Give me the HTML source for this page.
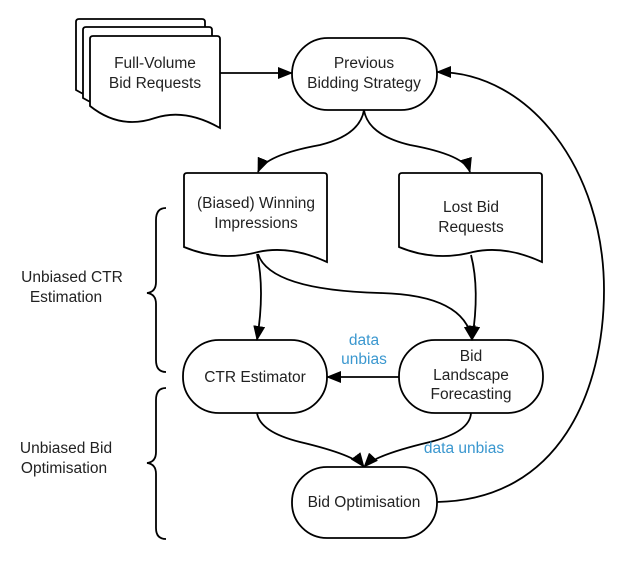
<!DOCTYPE html>
<html><head><style>
html,body{margin:0;padding:0;background:#fff;}
svg text{font-family:"Liberation Sans",sans-serif;font-size:15.5px;fill:#222;}
</style></head><body>
<svg width="619" height="558" viewBox="0 0 619 558" xmlns="http://www.w3.org/2000/svg">
<defs>
<marker id="a" markerWidth="15" markerHeight="12" refX="14" refY="6" orient="auto" markerUnits="userSpaceOnUse">
<path d="M0,0 L15,6 L0,12 z" fill="#000"/></marker>
</defs>
<g fill="#fff" stroke="#000" stroke-width="1.8">
<path d="M76,22 Q76,19 79,19 L202,19 Q205,19 205,22 L205,96 Q170,80 140,95 Q110,110 76,90 Z"/>
<path d="M83,30 Q83,27 86,27 L209,27 Q212,27 212,30 L212,104 Q177,88 147,103 Q117,118 83,98 Z"/>
<path d="M90,39 Q90,36 93,36 L217,36 Q220,36 220,39 L220,128 Q185,108 155,118 Q120,130 90,106 Z"/>
<rect x="292" y="38" width="145" height="72" rx="36"/>
<path d="M184,176 Q184,173 187,173 L324,173 Q327,173 327,176 L327,262 Q290,245 258,252 Q220,262 184,247 Z"/>
<path d="M399,176 Q399,173 402,173 L539,173 Q542,173 542,176 L542,262 Q505,245 473,252 Q435,262 399,247 Z"/>
<rect x="183" y="340" width="144" height="73" rx="36"/>
<rect x="399" y="340" width="144" height="73" rx="36"/>
<rect x="292" y="467" width="145" height="71" rx="35"/>
</g>
<g fill="none" stroke="#000" stroke-width="1.8">
<path d="M220,73 L292,73" marker-end="url(#a)"/>
<path d="M364,110 Q360,135 320,145 Q265,155 258,172" marker-end="url(#a)"/>
<path d="M364,110 Q368,135 410,145 Q465,155 470,172" marker-end="url(#a)"/>
<path d="M257,254 Q265,290 257,340" marker-end="url(#a)"/>
<path d="M258,254 Q270,290 380,293 Q465,295 472,340" marker-end="url(#a)"/>
<path d="M471,255 Q480,290 472,340" marker-end="url(#a)"/>
<path d="M399,377 L327,377" marker-end="url(#a)"/>
<path d="M257,413 Q260,432 300,442 Q355,455 364,467" marker-end="url(#a)"/>
<path d="M471,413 Q470,432 430,442 Q375,455 364,467" marker-end="url(#a)"/>
<path d="M437,502 C560,500 604,390 604,290 C604,170 530,72 437,72" marker-end="url(#a)"/>
<path d="M166,208 Q156,208 156,220 L156,282 Q156,292 147,293 Q156,294 156,304 L156,360 Q156,372 166,372"/>
<path d="M166,388 Q156,388 156,400 L156,452 Q156,462 147,463 Q156,464 156,474 L156,528 Q156,539 166,539"/>
</g>
<text x="155" y="68" text-anchor="middle">Full-Volume</text>
<text x="155" y="88" text-anchor="middle">Bid Requests</text>
<text x="364" y="68" text-anchor="middle">Previous</text>
<text x="364" y="88" text-anchor="middle">Bidding Strategy</text>
<text x="256" y="208" text-anchor="middle">(Biased) Winning</text>
<text x="256" y="228" text-anchor="middle">Impressions</text>
<text x="471" y="212" text-anchor="middle">Lost Bid</text>
<text x="471" y="232" text-anchor="middle">Requests</text>
<text x="255" y="382" text-anchor="middle">CTR Estimator</text>
<text x="471" y="361" text-anchor="middle">Bid</text>
<text x="471" y="380" text-anchor="middle">Landscape</text>
<text x="471" y="399" text-anchor="middle">Forecasting</text>
<text x="364" y="507" text-anchor="middle">Bid Optimisation</text>
<text x="364" y="345" text-anchor="middle" style="fill:#3a97cf">data</text>
<text x="364" y="364" text-anchor="middle" style="fill:#3a97cf">unbias</text>
<text x="464" y="453" text-anchor="middle" style="fill:#3a97cf">data unbias</text>
<text x="72" y="282" text-anchor="middle">Unbiased CTR</text>
<text x="66" y="302" text-anchor="middle">Estimation</text>
<text x="66" y="453" text-anchor="middle">Unbiased Bid</text>
<text x="64" y="473" text-anchor="middle">Optimisation</text>
</svg>
</body></html>
